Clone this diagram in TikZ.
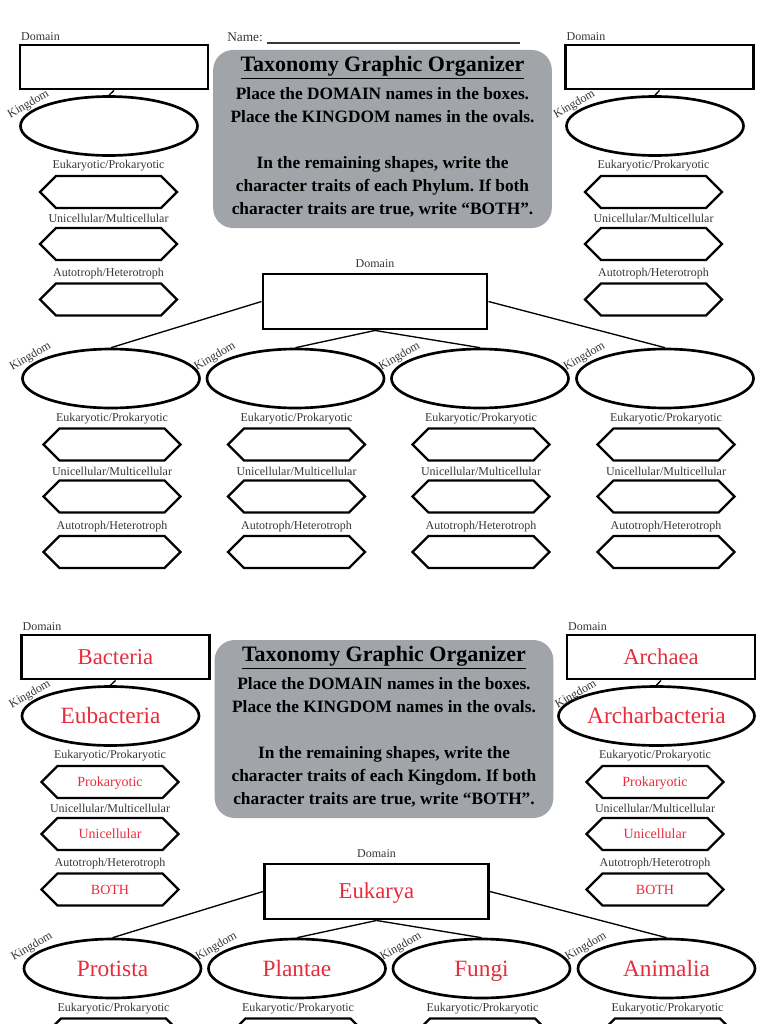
\documentclass[tikz,border=0pt]{standalone}
\usepackage{fontspec}
\setmainfont{Liberation Serif}
\usetikzlibrary{shapes.geometric, shapes.symbols, positioning, calc}
\definecolor{panelgray}{RGB}{161, 164, 169}
\definecolor{answerred}{RGB}{232, 44, 60}
\definecolor{labelgray}{RGB}{55, 55, 55}
\frenchspacing

\tikzset{
  domainbox/.style={draw, line width=2.2pt, minimum width=141pt, minimum height=33pt,
    inner sep=0pt, font=\fontsize{17}{20}\selectfont, text=answerred,
    text height=11.2pt, text depth=0pt},
  kingdomoval/.style={ellipse, draw, line width=2pt, minimum width=132.75pt,
    minimum height=44.25pt, inner sep=0pt, font=\fontsize{17.5}{20}\selectfont,
    text=answerred, text height=11.5pt, text depth=0pt},
  traithex/.style={signal, signal to=east and west, draw, line width=1.8pt,
    minimum width=102.75pt, minimum height=24pt, inner sep=0pt,
    font=\fontsize{10.5}{12}\selectfont, text=answerred, text height=7pt, text depth=0pt},
  smalllabel/.style={font=\fontsize{9}{10}\selectfont, text=labelgray, inner sep=1pt},
  kinglabel/.style={smalllabel, rotate=30},
  link/.style={line width=1pt},
  panel/.style={fill=panelgray, rounded corners=15pt, minimum width=254pt, minimum height=133.5pt},
  paneltitle/.style={font=\fontsize{16.5}{20}\selectfont\bfseries, inner sep=0pt},
  panelbody/.style={font=\fontsize{13}{17.25}\selectfont\bfseries, align=center, inner sep=0pt},
}

% oval with its rotated "Kingdom" tag
\newcommand{\kingdomnode}[4]{%
  \node[kingdomoval] (#1) at (#2,#3) {#4};
  \node[kinglabel] (#1lbl) at ($(#1.center)+(-80.5,-21.5)$) {Kingdom};
}
% three trait hexagons under an oval
\newcommand{\traitstack}[6]{%
  \node[smalllabel] (#1t1) at (#2,#3+40) {Eukaryotic/Prokaryotic};
  \node[traithex] (#1h1) at (#2,#3+66) {#4};
  \node[smalllabel] (#1t2) at (#2,#3+92.5) {Unicellular/Multicellular};
  \node[traithex] (#1h2) at (#2,#3+118) {#5};
  \node[smalllabel] (#1t3) at (#2,#3+148) {Autotroph/Heterotroph};
  \node[traithex] (#1h3) at (#2,#3+173.5) {#6};
}
% grey instruction panel
\newcommand{\organizer}[2]{%
  \node[panel] (#1) at (382.5,139) {};
  \node[paneltitle] (#1title) at (382.5,68) {\underline{Taxonomy Graphic Organizer}};
  \node[panelbody] (#1body) at (382.5,152) {Place the DOMAIN names in the boxes.\\
    Place the KINGDOM names in the ovals.\\[17.25pt]
    In the remaining shapes, write the\\
    character traits of each #2. If both\\
    character traits are true, write ``BOTH''.};
}

\begin{document}
\begin{tikzpicture}[x=0.75pt, y=-0.75pt]
\useasboundingbox (0,0) rectangle (768,1024);
\clip (0,0) rectangle (768,1024);
\fill[white] (0,0) rectangle (768,1024);

% ── Worksheet: name line and panel ──────────────────────────────
\node[anchor=base west, font=\fontsize{10}{12}\selectfont, text=labelgray, inner sep=0pt]
  (namelbl) at (227,42) {Name:};
\draw[labelgray, line width=0.8pt] (267,43) -- (520,43);
\organizer{ppanel}{Phylum}

% ── Worksheet: left column ──────────────────────────────────────
\node[domainbox] (pdl) at (114,67) {};
\node[smalllabel, anchor=south west] (pdllbl) at ($(pdl.north west)+(1,-1.5)$) {Domain};
\kingdomnode{pkl}{109}{126}{}
\draw[link] (pdl.south) -- (pkl.north);
\traitstack{pkl}{108.5}{126}{}{}{}

% ── Worksheet: right column ─────────────────────────────────────
\node[domainbox] (pdr) at (659.5,67) {};
\node[smalllabel, anchor=south west] (pdrlbl) at ($(pdr.north west)+(1,-1.5)$) {Domain};
\kingdomnode{pkr}{655}{126}{}
\draw[link] (pdr.south) -- (pkr.north);
\traitstack{pkr}{653.5}{126}{}{}{}

% ── Worksheet: centre domain and its four kingdoms ──────────────
\node[domainbox, minimum width=168pt, minimum height=41.25pt] (pdc) at (375,301.5) {};
\node[smalllabel, anchor=south] (pdclbl) at ($(pdc.north)+(0,-3)$) {Domain};
\foreach \nm/\x in {pk1/111, pk2/295.5, pk3/480, pk4/665} {
  \kingdomnode{\nm}{\x}{378.5}{}
  \traitstack{\nm}{\x+1}{378.5}{}{}{}
}
\draw[link] (pdc.west) -- (pk1.north);
\draw[link] (pdc.south) -- (pk2.north);
\draw[link] (pdc.south) -- (pk3.north);
\draw[link] (pdc.east) -- (pk4.north);

% ── Answer key (same sheet, filled in) ──────────────────────────
\begin{scope}[shift={(1.5,590)}]
  \organizer{apanel}{Kingdom}

  \node[domainbox] (adl) at (114,67) {Bacteria};
  \node[smalllabel, anchor=south west] (adllbl) at ($(adl.north west)+(1,-1.5)$) {Domain};
  \kingdomnode{akl}{109}{126}{Eubacteria}
  \draw[link] (adl.south) -- (akl.north);
  \traitstack{akl}{108.5}{126}{Prokaryotic}{Unicellular}{BOTH}

  \node[domainbox] (adr) at (659.5,67) {Archaea};
  \node[smalllabel, anchor=south west] (adrlbl) at ($(adr.north west)+(1,-1.5)$) {Domain};
  \kingdomnode{akr}{655}{126}{Archarbacteria}
  \draw[link] (adr.south) -- (akr.north);
  \traitstack{akr}{653.5}{126}{Prokaryotic}{Unicellular}{BOTH}

  \node[domainbox, minimum width=168pt, minimum height=41.25pt] (adc) at (375,301.5) {Eukarya};
  \node[smalllabel, anchor=south] (adclbl) at ($(adc.north)+(0,-3)$) {Domain};
  \foreach \nm/\x/\kname in {ak1/111/Protista, ak2/295.5/Plantae, ak3/480/Fungi, ak4/665/Animalia} {
    \kingdomnode{\nm}{\x}{378.5}{\kname}
    \traitstack{\nm}{\x+1}{378.5}{}{}{}
  }
  \draw[link] (adc.west) -- (ak1.north);
  \draw[link] (adc.south) -- (ak2.north);
  \draw[link] (adc.south) -- (ak3.north);
  \draw[link] (adc.east) -- (ak4.north);
\end{scope}
\end{tikzpicture}
\end{document}
